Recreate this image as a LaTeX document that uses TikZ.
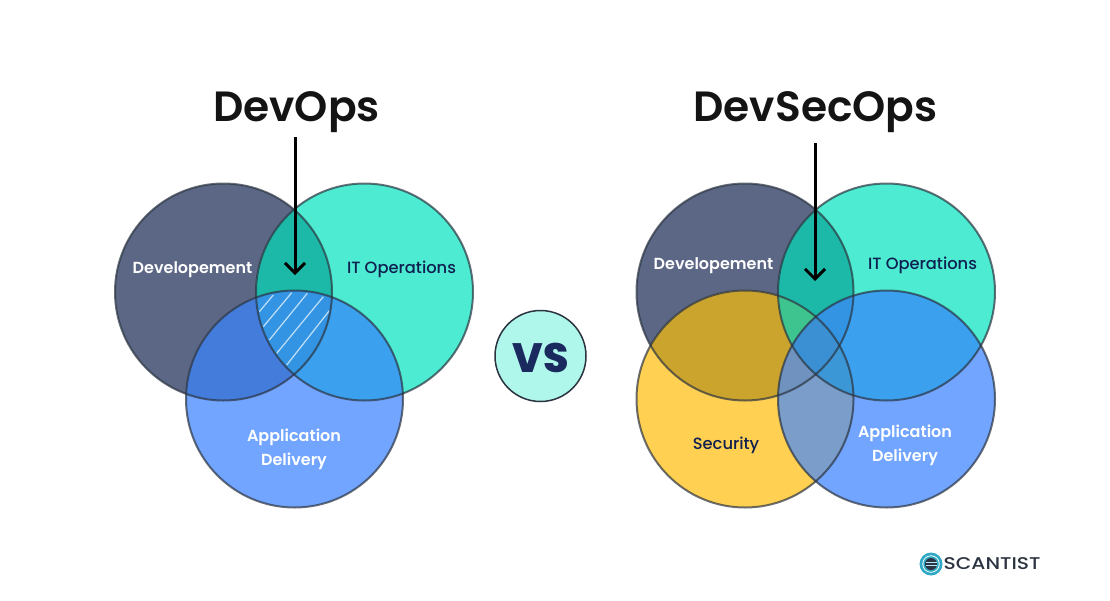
\documentclass[tikz,border=0pt]{standalone}
\usepackage{fontspec}
\usetikzlibrary{arrows.meta}
\newfontfamily\pmed{Poppins Medium}
\newfontfamily\psemi{Poppins SemiBold}
\newfontfamily\pxbold{Poppins ExtraBold}
\newfontfamily\plogo[FakeStretch=1.19]{Poppins Medium}
\definecolor{cdev}{HTML}{5C6785}
\definecolor{cit}{HTML}{4DEBD1}
\definecolor{capp}{HTML}{72A5FF}
\definecolor{csec}{HTML}{FFD052}
\definecolor{devit}{HTML}{1DB9A8}
\definecolor{devapp}{HTML}{447CDC}
\definecolor{itapp}{HTML}{3BA0EE}
\definecolor{triple}{HTML}{3294E3}
\definecolor{devsec}{HTML}{CBA42D}
\definecolor{secapp}{HTML}{7A9DC9}
\definecolor{dis}{HTML}{3EC48E}
\definecolor{dsa}{HTML}{6F92BE}
\definecolor{isa}{HTML}{3C97D6}
\definecolor{allfour}{HTML}{3A90D2}
\definecolor{navy}{HTML}{0F2050}
\definecolor{vsnavy}{HTML}{1B2A5E}
\definecolor{vsfill}{HTML}{B0F7EB}
\definecolor{ring}{HTML}{2B3440}
\definecolor{logoteal}{HTML}{2FA9C4}
\def\LDev{(223.5,292) circle (108.5)}
\def\LIT{(364.5,292) circle (108.5)}
\def\LApp{(294.5,399) circle (108.5)}
\def\RDev{(745,292) circle (108.5)}
\def\RIT{(886.5,292) circle (108.5)}
\def\RSec{(745,399) circle (108.5)}
\def\RApp{(886.5,399) circle (108.5)}
\newcommand\patch[3]{\begin{scope}\clip #1;\clip #2;\fill[#3] (0,0) rectangle (1110,600);\end{scope}}
\newcommand\patchiii[4]{\begin{scope}\clip #1;\clip #2;\clip #3;\fill[#4] (0,0) rectangle (1110,600);\end{scope}}
\tikzset{
  ringline/.style={draw=ring,draw opacity=.7,line width=2pt},
  hatchline/.style={draw=white,draw opacity=.7,line width=1.2pt},
  titletext/.style={font=\psemi\fontsize{42.3}{42.3}\selectfont,text=black!92,inner sep=0pt},
  lightlabel/.style={font=\psemi\fontsize{16}{24}\selectfont,text=white,align=center,inner sep=0pt},
  darklabel/.style={font=\pmed\fontsize{16.3}{24}\selectfont,text=navy,align=center,inner sep=0pt},
  pointer/.style={draw=black,line width=3pt,-{Straight Barb[length=10pt,width=20pt,line width=3pt]}}
}
\begin{document}
\begin{tikzpicture}[x=1pt,y=-1pt]
\useasboundingbox (0,0) rectangle (1110,600);
\fill[white] (0,0) rectangle (1110,600);
% left
\fill[cdev] \LDev; \fill[cit] \LIT; \fill[capp] \LApp;
\patch{\LDev}{\LIT}{devit}
\patch{\LDev}{\LApp}{devapp}
\patch{\LIT}{\LApp}{itapp}
\patchiii{\LDev}{\LIT}{\LApp}{triple}
\begin{scope}
\clip \LDev; \clip \LIT; \clip \LApp;
\draw[hatchline] (286.7,365) -- (329.3,310.7);
\draw[hatchline] (276.7,353.3) -- (323.3,296.7);
\draw[hatchline] (269.3,340) -- (307.3,293.3);
\draw[hatchline] (263.3,326.7) -- (291.7,292.7);
\draw[hatchline] (259.3,311.7) -- (273.3,295);
\end{scope}
\draw[ringline] \LDev; \draw[ringline] \LIT; \draw[ringline] \LApp;
% right
\fill[cdev] \RDev; \fill[cit] \RIT; \fill[csec] \RSec; \fill[capp] \RApp;
\patch{\RDev}{\RIT}{devit}
\patch{\RDev}{\RSec}{devsec}
\patch{\RIT}{\RApp}{itapp}
\patch{\RSec}{\RApp}{secapp}
\patchiii{\RDev}{\RIT}{\RSec}{dis}
\patchiii{\RDev}{\RIT}{\RApp}{triple}
\patchiii{\RDev}{\RSec}{\RApp}{dsa}
\patchiii{\RIT}{\RSec}{\RApp}{isa}
\begin{scope}\clip \RDev;\clip \RIT;\clip \RSec;\clip \RApp;\fill[allfour] (0,0) rectangle (1110,600);\end{scope}
\draw[ringline] \RDev; \draw[ringline] \RIT; \draw[ringline] \RSec; \draw[ringline] \RApp;
% titles
\node[titletext] (t1) at (296.5,112) {DevOps};
\node[titletext] (t2) at (815.5,112) {DevSecOps};
% arrows
\coordinate (a1s) at (295,137); \coordinate (a1e) at (295,275);
\coordinate (a2s) at (815,143); \coordinate (a2e) at (815,281);
\draw[pointer] (a1s) -- (a1e);
\draw[pointer] (a2s) -- (a2e);
% labels
\node[lightlabel] (l1) at (192.5,270) {Developement};
\node[darklabel] (l2) at (401.5,269) {IT Operations};
\node[lightlabel] (l3) at (294,449) {Application\\Delivery};
\node[lightlabel] (r1) at (713.5,266) {Developement};
\node[darklabel] (r2) at (922.5,265) {IT Operations};
\node[lightlabel] (r3) at (905,445) {Application\\Delivery};
\node[darklabel] (r4) at (726,445) {Security};
% vs
\node[circle,draw=ring,line width=1.5pt,fill=vsfill,minimum size=91pt,inner sep=0pt] (vs) at (540.5,356) {};
\node[inner sep=0pt,font=\pxbold\fontsize{41}{41}\selectfont,text=vsnavy] (vstext) at (540.5,358) {VS};
% logo
\fill[logoteal] (931,564) circle (11.5);
\fill[white] (931,564) circle (8.7);
\fill[logoteal] (931,564) circle (7.8);
\fill[ring] (931,564) circle (6);
\fill[white!70!cyan] (925.5,562.2) rectangle (936.5,563.4);
\fill[white!70!cyan] (925.5,565) rectangle (936.5,566.2);
\node[font=\plogo\fontsize{17}{18}\selectfont,text=ring,inner sep=0pt] (logo) at (992,564) {SCANTIST};
\end{tikzpicture}
\end{document}
